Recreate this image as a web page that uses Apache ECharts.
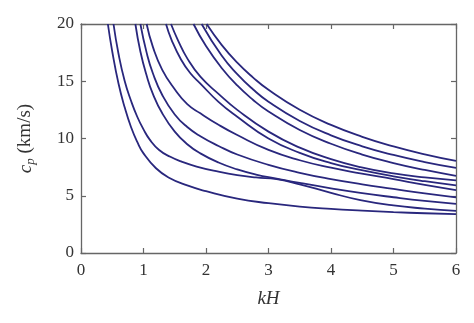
<!DOCTYPE html>
<html>
<head>
<meta charset="utf-8">
<script src="https://cdn.jsdelivr.net/npm/echarts@6/dist/echarts.min.js"></script>
<style>
  html, body { margin: 0; padding: 0; background: #fff; }
  #chart { width: 474px; height: 323px; }
</style>
</head>
<body>
<div id="chart"></div>
<script>
// axis ticks
var xTicks = [0, 1, 2, 3, 4, 5, 6];
var yTicks = [0, 5, 10, 15, 20];

// dispersion curves, [kH, cp]
var mode1 = [[0.43,20],[0.5,17.6],[0.6,14.8],[0.7,12.7],[0.8,11.0],[0.9,9.7],[1.0,8.7],[1.2,7.4],[1.4,6.6],[1.7,5.9],[2.0,5.4],[2.5,4.75],[3,4.35],[3.5,4.05],[4,3.85],[4.5,3.7],[5,3.57],[5.5,3.47],[6,3.39]];
var mode2 = [[0.52,20],[0.6,17.4],[0.7,15.0],[0.8,13.3],[0.9,11.9],[1.0,10.8],[1.1,9.9],[1.25,9.0],[1.43,8.4],[1.6,8.0],[1.85,7.55],[2.2,7.1],[2.5,6.8],[2.8,6.6],[3.13,6.45],[3.5,6.0],[4,5.25],[4.47,4.62],[5,4.15],[5.5,3.88],[6,3.68]];
var mode3 = [[0.87,20],[0.95,17.6],[1.05,15.5],[1.15,13.9],[1.3,12.2],[1.5,10.6],[1.7,9.5],[1.91,8.7],[2.2,7.9],[2.5,7.3],[2.8,6.85],[3.13,6.5],[3.5,6.12],[4,5.65],[4.47,5.25],[5,4.87],[5.5,4.55],[6,4.29]];
var mode4 = [[0.95,20],[1.05,17.5],[1.15,15.7],[1.3,13.8],[1.5,12.1],[1.7,11.0],[1.91,10.2],[2.2,9.35],[2.5,8.6],[3,7.7],[3.5,7.0],[4,6.45],[4.5,6.0],[5,5.6],[5.5,5.2],[6,4.86]];
var mode5 = [[1.05,20],[1.15,18.0],[1.3,16.0],[1.5,14.3],[1.7,13.0],[1.91,12.2],[2.2,11.2],[2.5,10.3],[3,9.0],[3.5,8.1],[4,7.45],[4.47,6.96],[5,6.45],[5.5,5.95],[6,5.5]];
var mode6 = [[1.36,20],[1.45,18.6],[1.6,16.9],[1.75,15.7],[1.91,14.8],[2.2,13.2],[2.5,11.9],[3,10.0],[3.5,8.75],[4,7.85],[4.47,7.25],[5,6.7],[5.5,6.27],[6,5.91]];
var mode7 = [[1.44,20],[1.55,18.6],[1.7,17.0],[1.91,15.4],[2.2,13.9],[2.5,12.5],[3,10.6],[3.5,9.2],[4,8.2],[4.47,7.5],[5,6.95],[5.5,6.6],[6,6.35]];
var mode8 = [[1.8,20],[2,18.07],[2.25,16.16],[2.5,14.63],[2.75,13.39],[3,12.36],[3.5,10.74],[4,9.54],[4.5,8.6],[5,7.86],[5.5,7.25],[6,6.74]];
var mode9 = [[1.93,20],[2.25,17.24],[2.5,15.62],[2.75,14.3],[3,13.21],[3.5,11.53],[4,10.28],[4.5,9.32],[5,8.56],[5.5,7.94],[6,7.43]];
var mode10 = [[2.01,20],[2.25,18.18],[2.5,16.62],[2.75,15.34],[3,14.25],[3.5,12.51],[4,11.19],[4.5,10.15],[5,9.31],[5.5,8.62],[6,8.04]];

var modes = [mode1, mode2, mode3, mode4, mode5, mode6, mode7, mode8, mode9, mode10];

var chart = echarts.init(document.getElementById('chart'));

var axisColor = '#666';
var serif = 'Liberation Serif';
var labelFont = { fontFamily: serif, fontSize: 17, color: '#333' };

var series = modes.map(function (m) {
  return {
    type: 'line',
    data: m,
    smooth: 0.5,
    showSymbol: false,
    xAxisIndex: 0,
    yAxisIndex: 0,
    lineStyle: { color: '#29277d', width: 1.8 },
    clip: true
  };
});

function boxAxis(extra) {
  return Object.assign({
    type: 'value',
    axisLine: { show: true, onZero: false, lineStyle: { color: axisColor, width: 1.3 } },
    axisTick: { inside: true, length: 5, lineStyle: { color: axisColor, width: 1.2 } },
    splitLine: { show: false }
  }, extra);
}

chart.setOption({
  animation: false,
  grid: { left: 81, right: 18, top: 24, bottom: 70 },
  xAxis: [
    boxAxis({
      min: xTicks[0], max: xTicks[xTicks.length - 1], interval: 1,
      name: 'kH', nameLocation: 'middle', nameGap: 36,
      nameTextStyle: { fontFamily: serif, fontSize: 19, fontStyle: 'italic', color: '#333' },
      axisLabel: Object.assign({ margin: 9 }, labelFont)
    }),
    boxAxis({
      min: xTicks[0], max: xTicks[xTicks.length - 1], interval: 1, position: 'top',
      axisLabel: { show: false }
    })
  ],
  yAxis: [
    boxAxis({
      min: yTicks[0], max: yTicks[yTicks.length - 1], interval: 5,
      name: '{i|c}{s|p}{n| (km/s)}', nameLocation: 'middle', nameGap: 44, nameRotate: 90,
      nameTextStyle: {
        rich: {
          i: { fontFamily: serif, fontSize: 19, fontStyle: 'italic', color: '#333' },
          s: { fontFamily: serif, fontSize: 13, fontStyle: 'italic', color: '#333', padding: [10, 0, 0, 0] },
          n: { fontFamily: serif, fontSize: 19, color: '#333' }
        }
      },
      axisLabel: Object.assign({ margin: 7 }, labelFont)
    }),
    boxAxis({
      min: yTicks[0], max: yTicks[yTicks.length - 1], interval: 5, position: 'right',
      axisLabel: { show: false }
    })
  ],
  series: series
});
</script>
</body>
</html>
